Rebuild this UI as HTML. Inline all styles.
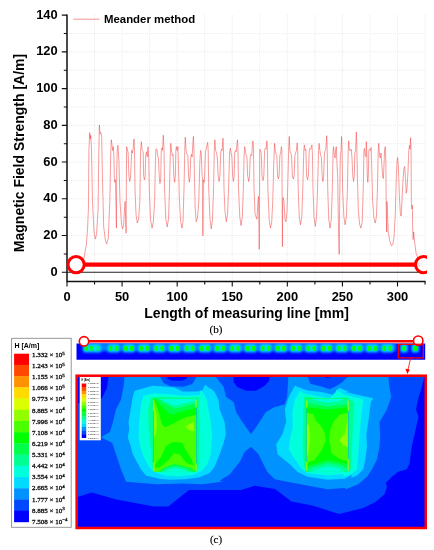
<!DOCTYPE html>
<html lang="en"><head><meta charset="utf-8"><title>Meander method figure</title>
<style>
html,body{margin:0;padding:0;background:#fff;}
body{width:434px;height:550px;overflow:hidden;}
svg{display:block;}
.sb{font-family:"Liberation Sans",Arial,sans-serif;font-weight:bold;fill:#000;}
.sr{font-family:"Liberation Serif","Times New Roman",serif;fill:#000;}
</style></head><body>
<svg width="434" height="550" viewBox="0 0 434 550">
<defs><filter id="soft" x="-5%" y="-5%" width="110%" height="110%"><feGaussianBlur stdDeviation="0.55"/></filter><filter id="soft2" x="-5%" y="-20%" width="110%" height="140%"><feGaussianBlur stdDeviation="0.7"/></filter><filter id="soft3" x="-5%" y="-30%" width="110%" height="160%"><feGaussianBlur stdDeviation="1.0"/></filter><clipPath id="mapclip"><rect x="77" y="376.5" width="348" height="150.5"/></clipPath><clipPath id="plotclip"><rect x="60" y="0" width="367" height="290"/></clipPath><clipPath id="stripclip"><rect x="76.5" y="343.6" width="348.9" height="16.2"/></clipPath></defs>
<rect width="434" height="550" fill="#fff"/>
<path d="M94.54 15.10V281.50M122.08 15.10V281.50M149.63 15.10V281.50M177.17 15.10V281.50M204.71 15.10V281.50M232.25 15.10V281.50M259.80 15.10V281.50M287.34 15.10V281.50M314.88 15.10V281.50M342.42 15.10V281.50M369.97 15.10V281.50M397.51 15.10V281.50M425.05 15.10V281.50M67.00 253.93H425.60M67.00 235.56H425.60M67.00 217.19H425.60M67.00 198.81H425.60M67.00 180.44H425.60M67.00 162.07H425.60M67.00 143.70H425.60M67.00 125.33H425.60M67.00 106.96H425.60M67.00 88.59H425.60M67.00 70.21H425.60M67.00 51.84H425.60M67.00 33.47H425.60" fill="none" stroke="#dedede" stroke-width="0.6" stroke-dasharray="1 1"/>
<path d="M67.0 272.30H425.6" stroke="#222" stroke-width="1.1" fill="none"/>
<path d="M67.50 270.50 L76.00 268.50 L81.00 262.00 L83.83 258.69 L86.37 244.68 L87.65 226.86 L88.41 209.03 L88.92 150.46 L89.68 132.64 L90.45 139.01 L90.70 135.19 L91.46 147.92 L92.48 201.39 L94.01 231.95 L95.28 239.08 L96.56 234.50 L98.09 209.03 L98.85 150.46 L99.36 125.00 L100.12 133.91 L100.89 132.64 L101.65 136.46 L102.41 175.93 L103.69 226.86 L105.47 240.86 L106.74 243.92 L108.27 238.32 L109.80 201.39 L110.82 150.46 L111.33 139.77 L112.09 145.37 L112.60 150.46 L113.36 146.65 L113.87 155.56 L114.38 178.48 L114.89 182.30 L115.40 179.75 L115.91 201.39 L116.42 228.13 L116.67 175.93 L117.18 150.46 L117.95 145.37 L118.46 153.01 L118.97 163.20 L119.99 201.39 L121.51 224.31 L122.53 228.90 L123.55 225.59 L124.57 209.03 L125.08 201.39 L125.59 216.67 L126.10 233.23 L126.35 188.66 L126.61 146.65 L127.37 149.19 L128.13 153.01 L128.90 175.93 L129.66 181.53 L130.43 178.48 L131.19 163.20 L131.70 150.46 L132.46 153.01 L133.23 147.92 L133.99 139.01 L134.50 150.46 L135.01 188.66 L136.03 214.13 L137.30 223.04 L138.57 219.22 L139.85 201.39 L140.61 150.46 L141.38 141.55 L142.14 150.46 L143.16 151.74 L143.67 175.93 L144.43 179.75 L145.20 175.93 L145.70 155.56 L146.47 151.74 L147.23 156.83 L148.00 146.65 L148.76 158.10 L149.27 188.66 L150.54 219.22 L152.07 228.13 L153.34 221.77 L154.62 201.39 L155.38 163.20 L155.89 149.19 L156.91 149.19 L157.67 155.56 L158.44 158.10 L159.20 175.93 L159.96 183.57 L160.73 178.48 L161.24 150.46 L162.00 147.92 L162.51 150.46 L163.28 135.19 L164.04 150.46 L164.55 188.66 L165.82 219.22 L167.20 226.86 L168.48 219.22 L169.50 188.66 L170.26 155.56 L170.77 143.33 L171.53 150.46 L172.30 155.56 L173.06 154.28 L173.83 175.93 L174.59 182.30 L175.35 175.93 L175.86 150.46 L176.37 146.65 L177.14 150.46 L177.90 146.65 L178.41 163.20 L179.43 201.39 L180.70 221.77 L181.97 228.13 L182.99 221.77 L184.01 188.66 L184.78 150.46 L185.28 137.22 L186.05 150.46 L187.07 154.28 L187.83 155.56 L188.59 175.93 L189.36 182.30 L190.12 175.93 L190.63 158.10 L191.40 154.28 L192.16 156.83 L192.67 145.37 L193.43 136.46 L193.94 150.46 L194.45 175.93 L195.22 209.03 L196.23 221.77 L197.51 217.95 L198.78 201.39 L199.80 163.20 L200.56 150.46 L201.33 153.01 L202.09 175.93 L202.60 179.75 L202.86 235.77 L203.36 179.75 L204.13 182.30 L204.64 175.93 L205.40 153.01 L206.17 149.19 L206.93 145.37 L207.69 142.32 L208.20 150.46 L208.71 188.66 L209.99 219.22 L211.26 228.90 L212.53 219.22 L213.55 188.66 L214.31 150.46 L214.82 139.77 L215.59 150.46 L216.61 153.01 L217.37 158.10 L218.13 175.93 L219.15 181.53 L219.92 175.93 L220.68 153.01 L221.44 149.19 L222.21 150.46 L222.97 138.24 L223.48 150.46 L223.99 188.66 L225.01 211.58 L226.28 221.77 L227.56 214.13 L228.57 188.66 L229.59 153.01 L230.36 147.92 L231.12 153.01 L231.88 156.83 L232.65 175.93 L233.41 181.53 L234.18 175.93 L234.69 153.01 L235.45 150.46 L236.21 151.74 L236.98 144.10 L237.49 139.77 L238.00 150.46 L238.51 188.66 L239.78 216.67 L241.05 225.59 L242.33 216.67 L243.34 188.66 L244.11 155.56 L244.62 146.65 L245.38 150.46 L246.15 155.56 L246.91 156.83 L247.67 175.93 L248.69 181.53 L249.46 175.93 L250.22 156.83 L250.98 154.28 L251.75 155.56 L252.51 142.83 L253.02 140.79 L253.53 150.46 L254.04 188.66 L255.06 214.13 L256.95 219.22 L257.97 201.39 L258.48 196.30 L258.99 226.86 L259.24 249.27 L259.50 201.39 L259.75 149.19 L260.51 150.46 L261.28 153.01 L262.04 175.93 L263.06 180.51 L263.83 175.93 L264.59 150.46 L265.35 148.43 L266.12 149.19 L266.88 140.79 L267.39 150.46 L267.90 188.66 L269.17 219.22 L270.45 228.13 L271.72 221.77 L272.74 201.39 L273.76 163.20 L274.52 143.33 L275.28 150.46 L276.05 154.28 L276.81 155.56 L277.58 175.93 L278.34 178.99 L279.10 175.93 L279.87 155.56 L280.63 153.01 L281.40 146.65 L281.91 150.46 L282.16 201.39 L282.41 246.72 L282.67 201.39 L283.18 197.57 L283.94 201.39 L284.96 219.22 L285.98 221.77 L287.00 211.58 L288.02 175.93 L288.78 145.37 L289.29 136.46 L289.80 150.46 L290.82 153.01 L291.58 155.56 L292.35 175.93 L293.36 178.99 L294.13 175.93 L294.89 155.56 L295.66 153.01 L296.42 150.46 L297.18 142.83 L297.69 150.46 L298.20 188.66 L299.22 216.67 L300.49 224.82 L301.77 216.67 L302.79 188.66 L303.80 150.46 L304.31 144.86 L305.08 150.46 L305.84 149.19 L306.61 175.93 L307.62 179.75 L308.39 175.93 L309.15 151.74 L309.92 148.43 L310.68 149.19 L311.44 146.65 L311.95 144.86 L312.46 155.56 L312.97 188.66 L313.99 216.67 L315.26 226.35 L316.54 216.67 L317.56 188.66 L318.57 150.46 L319.08 143.33 L319.85 150.46 L320.61 155.56 L321.38 156.83 L322.14 175.93 L322.90 181.53 L323.67 175.93 L324.43 153.01 L325.20 150.46 L325.96 147.92 L326.72 135.70 L327.23 150.46 L327.74 188.66 L328.76 219.22 L330.03 228.13 L331.31 219.22 L332.33 188.66 L333.09 150.46 L333.60 146.65 L334.36 155.56 L335.13 158.10 L335.64 149.19 L336.40 146.65 L336.91 163.20 L337.67 175.93 L338.44 226.86 L339.20 254.36 L339.71 201.39 L340.30 155.56 L341.06 150.46 L341.57 136.46 L342.08 150.46 L342.59 188.66 L343.86 216.67 L345.14 224.82 L346.41 216.67 L347.43 188.66 L348.19 150.46 L348.70 140.79 L349.46 150.46 L350.48 150.46 L351.25 149.19 L352.01 158.10 L352.78 175.93 L353.54 181.53 L354.30 175.93 L354.81 153.01 L355.58 150.46 L356.09 137.73 L356.34 132.13 L356.85 145.37 L357.36 175.93 L358.38 211.58 L359.65 224.31 L360.92 228.13 L362.20 221.77 L363.22 188.66 L363.98 150.46 L364.49 148.43 L365.25 155.56 L366.02 156.83 L366.27 141.55 L366.78 150.46 L367.29 175.93 L367.80 182.30 L368.31 175.93 L368.82 150.46 L369.58 149.19 L370.35 150.46 L371.11 147.41 L371.62 163.20 L372.64 201.39 L373.91 217.95 L375.18 223.04 L376.46 216.67 L377.48 188.66 L378.24 150.46 L378.75 143.33 L379.51 155.56 L380.28 158.10 L381.04 153.01 L381.80 163.20 L382.57 175.93 L383.33 178.48 L384.10 163.20 L384.61 149.19 L385.37 146.65 L385.88 163.20 L386.13 201.39 L386.64 231.95 L386.90 201.39 L387.41 209.03 L388.17 231.95 L389.70 240.86 L391.48 245.96 L392.75 244.68 L394.03 237.04 L395.30 214.13 L396.32 175.93 L397.08 160.65 L397.59 157.59 L398.36 165.74 L399.38 196.30 L400.39 214.13 L401.16 216.16 L401.92 201.39 L402.94 181.02 L403.96 168.29 L404.72 166.51 L405.49 178.48 L406.25 193.25 L407.02 188.66 L408.03 170.84 L408.80 150.46 L409.56 145.37 L410.07 149.19 L410.58 137.73 L411.09 150.46 L411.34 201.39 L411.85 209.03 L412.36 205.21 L412.62 226.86 L413.13 239.59 L413.64 231.95 L414.65 242.14 L416.18 253.60 L417.71 257.42 L420.00 263.00 L424.50 269.00" fill="none" stroke="#f04040" stroke-width="0.52" stroke-linejoin="round" clip-path="url(#plotclip)"/>
<path d="M67.0 14.60V282.2M66.3 281.5H425.6" stroke="#111" stroke-width="1.5" fill="none"/>
<path d="M61.80 272.30H67.0M61.80 235.56H67.0M61.80 198.81H67.0M61.80 162.07H67.0M61.80 125.33H67.0M61.80 88.59H67.0M61.80 51.84H67.0M61.80 15.10H67.0M63.80 253.93H67.0M63.80 217.19H67.0M63.80 180.44H67.0M63.80 143.70H67.0M63.80 106.96H67.0M63.80 70.21H67.0M63.80 33.47H67.0M67.00 281.5V286.5M122.08 281.5V286.5M177.17 281.5V286.5M232.25 281.5V286.5M287.34 281.5V286.5M342.42 281.5V286.5M397.51 281.5V286.5M94.54 281.5V284.5M149.63 281.5V284.5M204.71 281.5V284.5M259.80 281.5V284.5M314.88 281.5V284.5M369.97 281.5V284.5M425.05 281.5V284.5" stroke="#111" stroke-width="1.1" fill="none"/>
<text class="sb" x="57.7" y="275.80" font-size="12.9" text-anchor="end">0</text>
<text class="sb" x="57.7" y="239.06" font-size="12.9" text-anchor="end">20</text>
<text class="sb" x="57.7" y="202.31" font-size="12.9" text-anchor="end">40</text>
<text class="sb" x="57.7" y="165.57" font-size="12.9" text-anchor="end">60</text>
<text class="sb" x="57.7" y="128.83" font-size="12.9" text-anchor="end">80</text>
<text class="sb" x="57.7" y="92.09" font-size="12.9" text-anchor="end">100</text>
<text class="sb" x="57.7" y="55.34" font-size="12.9" text-anchor="end">120</text>
<text class="sb" x="57.7" y="18.60" font-size="12.9" text-anchor="end">140</text>
<text class="sb" x="67.00" y="300.5" font-size="12.9" text-anchor="middle">0</text>
<text class="sb" x="122.08" y="300.5" font-size="12.9" text-anchor="middle">50</text>
<text class="sb" x="177.17" y="300.5" font-size="12.9" text-anchor="middle">100</text>
<text class="sb" x="232.25" y="300.5" font-size="12.9" text-anchor="middle">150</text>
<text class="sb" x="287.34" y="300.5" font-size="12.9" text-anchor="middle">200</text>
<text class="sb" x="342.42" y="300.5" font-size="12.9" text-anchor="middle">250</text>
<text class="sb" x="397.51" y="300.5" font-size="12.9" text-anchor="middle">300</text>
<text class="sb" x="246.6" y="317.6" font-size="14" text-anchor="middle">Length of measuring line [mm]</text>
<text class="sb" transform="translate(23.6 153) rotate(-90)" font-size="14" text-anchor="middle">Magnetic Field Strength [A/m]</text>
<path d="M73.3 19.2H99.4" stroke="#ee3b3b" stroke-width="0.55" fill="none"/>
<text class="sb" x="104" y="23.3" font-size="11.4">Meander method</text>
<g clip-path="url(#plotclip)">
<path d="M84 264.6H420" stroke="#ff0000" stroke-width="4.2" fill="none"/>
<circle cx="76.1" cy="264.6" r="8.1" fill="#fff" fill-opacity="0.86" stroke="#ff0000" stroke-width="3"/>
<circle cx="423.6" cy="264.6" r="8.1" fill="#fff" fill-opacity="0.86" stroke="#ff0000" stroke-width="3"/>
</g>
<text class="sr" x="216" y="333" font-size="11" text-anchor="middle" stroke="#000" stroke-width="0.15">(b)</text>
<rect x="11.6" y="338.3" width="59.6" height="189" fill="#fff" stroke="#8c8c8c" stroke-width="0.9"/>
<text class="sb" x="14.4" y="348.3" font-size="7.3" textLength="25" lengthAdjust="spacingAndGlyphs">H [A/m]</text>
<rect x="14.1" y="353.70" width="14.9" height="11.51" fill="#ff0000"/>
<rect x="14.1" y="364.91" width="14.9" height="11.51" fill="#ff4900"/>
<rect x="14.1" y="376.13" width="14.9" height="11.51" fill="#ff9200"/>
<rect x="14.1" y="387.34" width="14.9" height="11.51" fill="#ffdb00"/>
<rect x="14.1" y="398.55" width="14.9" height="11.51" fill="#dbff00"/>
<rect x="14.1" y="409.77" width="14.9" height="11.51" fill="#92ff00"/>
<rect x="14.1" y="420.98" width="14.9" height="11.51" fill="#49ff00"/>
<rect x="14.1" y="432.19" width="14.9" height="11.51" fill="#00ff00"/>
<rect x="14.1" y="443.41" width="14.9" height="11.51" fill="#00ff49"/>
<rect x="14.1" y="454.62" width="14.9" height="11.51" fill="#00ff92"/>
<rect x="14.1" y="465.83" width="14.9" height="11.51" fill="#00ffdb"/>
<rect x="14.1" y="477.05" width="14.9" height="11.51" fill="#00dbff"/>
<rect x="14.1" y="488.26" width="14.9" height="11.51" fill="#0092ff"/>
<rect x="14.1" y="499.47" width="14.9" height="11.51" fill="#0049ff"/>
<rect x="14.1" y="510.69" width="14.9" height="11.51" fill="#0000ff"/>
<text class="sr" transform="translate(32.1 357.00) scale(1 1)" font-size="7" fill="#111" stroke="#111" stroke-width="0.3">1.332 × 10<tspan dy="-2.5" font-size="5">5</tspan></text>
<text class="sr" transform="translate(32.1 368.12) scale(1 1)" font-size="7" fill="#111" stroke="#111" stroke-width="0.3">1.243 × 10<tspan dy="-2.5" font-size="5">5</tspan></text>
<text class="sr" transform="translate(32.1 379.24) scale(1 1)" font-size="7" fill="#111" stroke="#111" stroke-width="0.3">1.155 × 10<tspan dy="-2.5" font-size="5">5</tspan></text>
<text class="sr" transform="translate(32.1 390.36) scale(1 1)" font-size="7" fill="#111" stroke="#111" stroke-width="0.3">1.066 × 10<tspan dy="-2.5" font-size="5">5</tspan></text>
<text class="sr" transform="translate(32.1 401.48) scale(1 1)" font-size="7" fill="#111" stroke="#111" stroke-width="0.3">9.773 × 10<tspan dy="-2.5" font-size="5">4</tspan></text>
<text class="sr" transform="translate(32.1 412.60) scale(1 1)" font-size="7" fill="#111" stroke="#111" stroke-width="0.3">8.885 × 10<tspan dy="-2.5" font-size="5">4</tspan></text>
<text class="sr" transform="translate(32.1 423.72) scale(1 1)" font-size="7" fill="#111" stroke="#111" stroke-width="0.3">7.996 × 10<tspan dy="-2.5" font-size="5">4</tspan></text>
<text class="sr" transform="translate(32.1 434.84) scale(1 1)" font-size="7" fill="#111" stroke="#111" stroke-width="0.3">7.108 × 10<tspan dy="-2.5" font-size="5">4</tspan></text>
<text class="sr" transform="translate(32.1 445.96) scale(1 1)" font-size="7" fill="#111" stroke="#111" stroke-width="0.3">6.219 × 10<tspan dy="-2.5" font-size="5">4</tspan></text>
<text class="sr" transform="translate(32.1 457.08) scale(1 1)" font-size="7" fill="#111" stroke="#111" stroke-width="0.3">5.331 × 10<tspan dy="-2.5" font-size="5">4</tspan></text>
<text class="sr" transform="translate(32.1 468.20) scale(1 1)" font-size="7" fill="#111" stroke="#111" stroke-width="0.3">4.442 × 10<tspan dy="-2.5" font-size="5">4</tspan></text>
<text class="sr" transform="translate(32.1 479.32) scale(1 1)" font-size="7" fill="#111" stroke="#111" stroke-width="0.3">3.554 × 10<tspan dy="-2.5" font-size="5">4</tspan></text>
<text class="sr" transform="translate(32.1 490.44) scale(1 1)" font-size="7" fill="#111" stroke="#111" stroke-width="0.3">2.665 × 10<tspan dy="-2.5" font-size="5">4</tspan></text>
<text class="sr" transform="translate(32.1 501.56) scale(1 1)" font-size="7" fill="#111" stroke="#111" stroke-width="0.3">1.777 × 10<tspan dy="-2.5" font-size="5">4</tspan></text>
<text class="sr" transform="translate(32.1 512.68) scale(1 1)" font-size="7" fill="#111" stroke="#111" stroke-width="0.3">8.885 × 10<tspan dy="-2.5" font-size="5">3</tspan></text>
<text class="sr" transform="translate(32.1 523.80) scale(1 1)" font-size="7" fill="#111" stroke="#111" stroke-width="0.3">7.508 × 10<tspan dy="-2.5" font-size="5">−4</tspan></text>
<g clip-path="url(#stripclip)">
<rect x="76" y="343" width="349.5" height="17.5" fill="#0000ff"/>
<g filter="url(#soft3)">
<rect x="83" y="342" width="313.5" height="9.6" rx="2" fill="#0049ff"/>
<rect x="84" y="343.5" width="311.5" height="6.9" rx="2" fill="#0092ff" opacity="0.8"/>
<rect x="82.6" y="343.4" width="19.2" height="9.4" rx="2.5" fill="#0092ff"/>
<rect x="107.1" y="343.4" width="13.1" height="9.4" rx="2.5" fill="#0092ff"/>
<rect x="122.3" y="343.4" width="13.1" height="9.4" rx="2.5" fill="#0092ff"/>
<rect x="137.5" y="343.4" width="13.1" height="9.4" rx="2.5" fill="#0092ff"/>
<rect x="152.7" y="343.4" width="13.1" height="9.4" rx="2.5" fill="#0092ff"/>
<rect x="167.9" y="343.4" width="13.1" height="9.4" rx="2.5" fill="#0092ff"/>
<rect x="183.1" y="343.4" width="13.1" height="9.4" rx="2.5" fill="#0092ff"/>
<rect x="198.3" y="343.4" width="13.1" height="9.4" rx="2.5" fill="#0092ff"/>
<rect x="213.5" y="343.4" width="13.1" height="9.4" rx="2.5" fill="#0092ff"/>
<rect x="228.7" y="343.4" width="13.1" height="9.4" rx="2.5" fill="#0092ff"/>
<rect x="243.9" y="343.4" width="13.1" height="9.4" rx="2.5" fill="#0092ff"/>
<rect x="259.1" y="343.4" width="13.1" height="9.4" rx="2.5" fill="#0092ff"/>
<rect x="274.3" y="343.4" width="13.1" height="9.4" rx="2.5" fill="#0092ff"/>
<rect x="289.5" y="343.4" width="13.1" height="9.4" rx="2.5" fill="#0092ff"/>
<rect x="304.7" y="343.4" width="13.1" height="9.4" rx="2.5" fill="#0092ff"/>
<rect x="319.9" y="343.4" width="13.1" height="9.4" rx="2.5" fill="#0092ff"/>
<rect x="335.1" y="343.4" width="13.1" height="9.4" rx="2.5" fill="#0092ff"/>
<rect x="350.3" y="343.4" width="13.1" height="9.4" rx="2.5" fill="#0092ff"/>
<rect x="365.5" y="343.4" width="13.1" height="9.4" rx="2.5" fill="#0092ff"/>
<rect x="380.7" y="343.4" width="13.1" height="9.4" rx="2.5" fill="#0092ff"/>
<rect x="400.0" y="343.4" width="8.2" height="9.4" rx="2.5" fill="#0092ff"/>
<rect x="411.1" y="343.4" width="8.2" height="9.4" rx="2.5" fill="#0092ff"/>
<rect x="83.8" y="344.6" width="16.8" height="6.9" rx="2.6" fill="#00dbff"/>
<rect x="108.3" y="344.6" width="10.7" height="6.9" rx="2.6" fill="#00dbff"/>
<rect x="123.5" y="344.6" width="10.7" height="6.9" rx="2.6" fill="#00dbff"/>
<rect x="138.7" y="344.6" width="10.7" height="6.9" rx="2.6" fill="#00dbff"/>
<rect x="153.9" y="344.6" width="10.7" height="6.9" rx="2.6" fill="#00dbff"/>
<rect x="169.1" y="344.6" width="10.7" height="6.9" rx="2.6" fill="#00dbff"/>
<rect x="184.3" y="344.6" width="10.7" height="6.9" rx="2.6" fill="#00dbff"/>
<rect x="199.5" y="344.6" width="10.7" height="6.9" rx="2.6" fill="#00dbff"/>
<rect x="214.7" y="344.6" width="10.7" height="6.9" rx="2.6" fill="#00dbff"/>
<rect x="229.9" y="344.6" width="10.7" height="6.9" rx="2.6" fill="#00dbff"/>
<rect x="245.1" y="344.6" width="10.7" height="6.9" rx="2.6" fill="#00dbff"/>
<rect x="260.3" y="344.6" width="10.7" height="6.9" rx="2.6" fill="#00dbff"/>
<rect x="275.5" y="344.6" width="10.7" height="6.9" rx="2.6" fill="#00dbff"/>
<rect x="290.7" y="344.6" width="10.7" height="6.9" rx="2.6" fill="#00dbff"/>
<rect x="305.9" y="344.6" width="10.7" height="6.9" rx="2.6" fill="#00dbff"/>
<rect x="321.1" y="344.6" width="10.7" height="6.9" rx="2.6" fill="#00dbff"/>
<rect x="336.3" y="344.6" width="10.7" height="6.9" rx="2.6" fill="#00dbff"/>
<rect x="351.5" y="344.6" width="10.7" height="6.9" rx="2.6" fill="#00dbff"/>
<rect x="366.7" y="344.6" width="10.7" height="6.9" rx="2.6" fill="#00dbff"/>
<rect x="381.9" y="344.6" width="10.7" height="6.9" rx="2.6" fill="#00dbff"/>
<rect x="401.2" y="344.6" width="5.8" height="6.9" rx="2.6" fill="#00dbff"/>
<rect x="412.3" y="344.6" width="5.8" height="6.9" rx="2.6" fill="#00dbff"/>
</g><g filter="url(#soft2)">
<rect x="84.6" y="346.1" width="3.6" height="4.6" rx="0.9" fill="#00ff00" opacity="1"/>
<rect x="89.5" y="346.1" width="3.6" height="4.6" rx="0.9" fill="#00ff00" opacity="0.8"/>
<rect x="96.2" y="346.1" width="3.6" height="4.6" rx="0.9" fill="#00ff00" opacity="0.45"/>
<rect x="108.9" y="346.1" width="3.6" height="4.6" rx="0.9" fill="#00ff00" opacity="1"/>
<rect x="114.8" y="346.1" width="3.6" height="4.6" rx="0.9" fill="#00ff00" opacity="1"/>
<rect x="124.1" y="346.1" width="3.6" height="4.6" rx="0.9" fill="#00ff00" opacity="1"/>
<rect x="130.0" y="346.1" width="3.6" height="4.6" rx="0.9" fill="#00ff00" opacity="1"/>
<rect x="139.3" y="346.1" width="3.6" height="4.6" rx="0.9" fill="#00ff00" opacity="1"/>
<rect x="145.2" y="346.1" width="3.6" height="4.6" rx="0.9" fill="#00ff00" opacity="1"/>
<rect x="154.5" y="346.1" width="3.6" height="4.6" rx="0.9" fill="#00ff00" opacity="1"/>
<rect x="160.4" y="346.1" width="3.6" height="4.6" rx="0.9" fill="#00ff00" opacity="1"/>
<rect x="169.7" y="346.1" width="3.6" height="4.6" rx="0.9" fill="#00ff00" opacity="1"/>
<rect x="175.6" y="346.1" width="3.6" height="4.6" rx="0.9" fill="#00ff00" opacity="1"/>
<rect x="184.9" y="346.1" width="3.6" height="4.6" rx="0.9" fill="#00ff00" opacity="1"/>
<rect x="190.8" y="346.1" width="3.6" height="4.6" rx="0.9" fill="#00ff00" opacity="1"/>
<rect x="200.1" y="346.1" width="3.6" height="4.6" rx="0.9" fill="#00ff00" opacity="1"/>
<rect x="206.0" y="346.1" width="3.6" height="4.6" rx="0.9" fill="#00ff00" opacity="1"/>
<rect x="215.3" y="346.1" width="3.6" height="4.6" rx="0.9" fill="#00ff00" opacity="1"/>
<rect x="221.2" y="346.1" width="3.6" height="4.6" rx="0.9" fill="#00ff00" opacity="1"/>
<rect x="230.5" y="346.1" width="3.6" height="4.6" rx="0.9" fill="#00ff00" opacity="1"/>
<rect x="236.4" y="346.1" width="3.6" height="4.6" rx="0.9" fill="#00ff00" opacity="1"/>
<rect x="245.7" y="346.1" width="3.6" height="4.6" rx="0.9" fill="#00ff00" opacity="1"/>
<rect x="251.6" y="346.1" width="3.6" height="4.6" rx="0.9" fill="#00ff00" opacity="1"/>
<rect x="260.9" y="346.1" width="3.6" height="4.6" rx="0.9" fill="#00ff00" opacity="1"/>
<rect x="266.8" y="346.1" width="3.6" height="4.6" rx="0.9" fill="#00ff00" opacity="1"/>
<rect x="276.1" y="346.1" width="3.6" height="4.6" rx="0.9" fill="#00ff00" opacity="1"/>
<rect x="282.0" y="346.1" width="3.6" height="4.6" rx="0.9" fill="#00ff00" opacity="1"/>
<rect x="291.3" y="346.1" width="3.6" height="4.6" rx="0.9" fill="#00ff00" opacity="1"/>
<rect x="297.2" y="346.1" width="3.6" height="4.6" rx="0.9" fill="#00ff00" opacity="1"/>
<rect x="306.5" y="346.1" width="3.6" height="4.6" rx="0.9" fill="#00ff00" opacity="1"/>
<rect x="312.4" y="346.1" width="3.6" height="4.6" rx="0.9" fill="#00ff00" opacity="1"/>
<rect x="321.7" y="346.1" width="3.6" height="4.6" rx="0.9" fill="#00ff00" opacity="1"/>
<rect x="327.6" y="346.1" width="3.6" height="4.6" rx="0.9" fill="#00ff00" opacity="1"/>
<rect x="336.9" y="346.1" width="3.6" height="4.6" rx="0.9" fill="#00ff00" opacity="1"/>
<rect x="342.8" y="346.1" width="3.6" height="4.6" rx="0.9" fill="#00ff00" opacity="1"/>
<rect x="352.1" y="346.1" width="3.6" height="4.6" rx="0.9" fill="#00ff00" opacity="1"/>
<rect x="358.0" y="346.1" width="3.6" height="4.6" rx="0.9" fill="#00ff00" opacity="1"/>
<rect x="367.3" y="346.1" width="3.6" height="4.6" rx="0.9" fill="#00ff00" opacity="1"/>
<rect x="373.2" y="346.1" width="3.6" height="4.6" rx="0.9" fill="#00ff00" opacity="1"/>
<rect x="382.5" y="346.1" width="3.6" height="4.6" rx="0.9" fill="#00ff00" opacity="1"/>
<rect x="388.4" y="346.1" width="3.6" height="4.6" rx="0.9" fill="#00ff00" opacity="1"/>
<rect x="402.3" y="346.1" width="3.6" height="4.6" rx="0.9" fill="#00ff00" opacity="1"/>
<rect x="413.4" y="346.1" width="3.6" height="4.6" rx="0.9" fill="#00ff00" opacity="1"/>
</g></g>
<path d="M88 341.3H414" stroke="#ff0000" stroke-width="2.5" fill="none"/>
<circle cx="84" cy="341.3" r="4.7" fill="#fff" fill-opacity="0.92" stroke="#ff0000" stroke-width="1.6"/>
<circle cx="418.2" cy="340.7" r="4.7" fill="#fff" fill-opacity="0.92" stroke="#ff0000" stroke-width="1.6"/>
<rect x="398.3" y="344.3" width="25" height="13.6" fill="none" stroke="#ff0000" stroke-width="1.25"/>
<path d="M410.6 358.5L407.9 370" stroke="#ff0000" stroke-width="0.8" fill="none"/>
<path d="M405.4 368.8L407.4 374L409.8 369.6Z" fill="#ff0000"/>
<rect x="76" y="375.5" width="350" height="152.5" fill="#0049ff"/>
<g clip-path="url(#mapclip)"><g filter="url(#soft)">
<polygon points="70.0,530.0 70.0,497.5 79.0,496.5 91.6,492.4 116.5,499.4 153.8,506.5 168.3,506.5 189.0,489.9 241.0,489.9 255.0,485.7 274.9,489.0 291.5,501.5 312.2,505.6 339.2,513.9 363.3,507.9 375.8,501.7 384.5,494.2 387.0,486.7 385.7,483.0 391.9,476.7 398.1,471.8 406.8,469.3 409.3,464.3 411.8,446.8 415.6,429.4 418.5,416.9 416.0,409.4 418.0,399.4 421.8,387.0 424.3,377.5 425.0,370.0 432.0,370.0 432.0,530.0" fill="#0000ff"/>
<polygon points="70.0,370.0 108.6,370.0 108.6,376.5 106.8,388.2 101.9,398.2 90.0,402.0 70.0,404.0" fill="#0000ff"/>
<polygon points="124.8,374.5 123.5,387.0 121.0,399.4 116.0,409.4 112.3,424.4 109.8,431.9 101.1,437.3 112.3,443.1 116.0,454.3 121.0,469.3 126.0,481.7 157.1,484.2 183.0,483.5 202.2,484.2 222.1,481.7 219.9,480.5 229.9,474.2 239.8,461.8 244.8,451.8 251.0,446.8 258.5,454.3 267.2,471.8 274.7,479.2 287.1,481.7 307.3,485.5 327.2,489.2 344.6,488.0 345.9,489.2 358.3,484.2 367.0,476.7 372.0,469.3 377.0,459.3 379.5,446.8 380.2,436.8 379.5,421.9 386.9,409.4 391.2,396.9 389.4,387.0 388.2,374.5 347.7,371.2 347.7,369.9 285.5,369.9 285.5,374.0 288.3,377.5 287.1,396.9 284.6,404.4 274.7,406.9 265.9,411.9 257.2,425.6 251.0,434.3 242.3,421.9 236.1,411.9 233.6,401.9 226.1,396.9 223.7,387.0 216.2,377.5 216.2,373.2" fill="#0092ff"/>
<polygon points="160.6,371.5 160.6,377.8 163.6,382.9 170.7,386.2 183.4,386.7 192.2,384.1 196.0,377.8 196.0,371.5" fill="#0049ff"/>
<polygon points="166.9,371.5 167.4,378.6 172.0,380.8 182.1,380.8 186.7,378.6 187.2,371.5" fill="#0000ff"/>
<polygon points="307.6,371.2 307.6,376.8 310.4,383.7 321.5,386.4 329.8,389.2 335.3,386.4 342.2,382.3 347.7,376.8 347.7,371.2" fill="#0049ff"/>
<polygon points="324.2,371.2 324.2,376.8 327.6,378.1 331.1,376.8 331.1,371.2" fill="#0000ff"/>
<polygon points="233.6,372.0 233.6,382.0 237.3,387.0 246.0,390.7 256.0,390.7 264.7,385.7 269.2,380.7 270.2,372.0" fill="#0000ff"/>
<polygon points="134.7,390.7 132.7,396.9 130.2,411.9 128.5,421.9 129.2,429.4 127.7,437.3 130.2,444.3 132.7,454.3 140.9,469.3 145.9,475.5 159.6,478.7 169.9,479.7 184.8,479.2 199.7,477.2 209.7,473.0 214.6,466.8 219.6,454.3 223.3,444.3 225.8,434.3 224.6,421.9 219.6,409.4 218.4,399.4 214.6,392.0 212.1,389.5 208.4,387.5 205.2,384.5 202.2,390.7 197.2,391.5 182.3,391.5 174.8,387.5 164.9,386.5 152.4,385.7" fill="#00dbff"/>
<polygon points="143.4,395.7 140.9,404.4 139.2,421.9 138.4,436.8 140.2,446.8 144.7,459.3 149.6,468.0 157.1,473.0 164.9,475.5 179.8,476.2 193.5,474.7 202.2,470.5 207.2,464.3 210.9,454.3 212.1,436.8 210.9,421.9 208.4,409.4 206.7,399.4 203.4,393.2 200.9,389.5 199.7,394.9 184.8,395.7 169.9,394.4 154.9,393.2" fill="#00ffdb"/>
<polygon points="150.9,397.7 148.1,409.4 148.6,426.9 150.4,444.3 151.6,456.8 152.6,469.8 154.9,471.8 196.0,471.8 198.7,466.8 199.2,446.8 199.7,429.4 199.2,411.9 198.7,399.9 198.7,396.9 184.8,397.7 164.9,396.9 153.7,396.9" fill="#00ff92"/>
<polygon points="294.9,385.7 288.7,396.9 284.9,409.4 286.2,421.9 282.4,434.3 276.2,444.3 277.5,454.3 289.9,464.3 297.4,471.8 307.3,476.7 327.2,479.7 344.6,478.7 352.1,474.7 350.9,478.0 357.1,475.5 363.3,469.3 365.3,459.3 367.0,446.8 366.3,434.3 368.3,421.9 370.8,401.9 373.3,398.2 355.9,394.4 345.9,392.0 349.1,392.0 339.4,387.8 332.5,394.7 321.5,392.0 307.6,390.6 296.6,386.4" fill="#00dbff"/>
<polygon points="299.9,390.7 294.9,399.4 292.4,411.9 292.9,426.9 289.9,439.3 288.7,449.3 294.9,459.3 301.1,468.0 307.3,473.0 327.2,475.5 343.4,474.2 343.4,476.7 352.1,473.7 357.1,469.3 358.3,454.3 359.6,434.3 362.1,409.4 363.3,399.4 353.4,396.9 343.4,394.4 336.0,389.5 336.7,392.0 329.7,398.2 314.8,395.7 303.6,393.2" fill="#00ffdb"/>
<polygon points="304.3,396.2 303.3,406.9 303.1,421.9 302.8,436.8 302.8,449.3 303.6,461.8 305.3,471.3 349.6,471.3 350.9,469.3 351.9,446.8 352.9,421.9 354.4,401.9 348.9,398.9 344.6,396.9 329.7,399.4 314.8,397.7" fill="#00ff92"/>
</g>
<g filter="url(#soft)">
<rect x="153.6" y="399.0" width="42.6" height="72.8" fill="#49ff00"/>
<polygon points="153.6,398.8 196.2,398.8 196.2,414.7 185.1,417.5 172.7,423.7 165.7,427.2 162.3,425.1 158.8,412.7 156.1,404.4 153.6,401.6" fill="#00ff00"/>
<polygon points="155.4,398.8 196.2,398.8 196.2,407.8 186.5,410.6 178.2,412.7 172.7,414.7 167.8,412.7 162.3,407.1 157.4,401.6" fill="#00ff49"/>
<polygon points="157.4,398.8 196.2,398.8 196.2,403.7 186.5,405.7 179.6,407.8 174.7,408.8 169.9,406.0 163.0,402.7" fill="#00ff92"/>
<polygon points="160.2,398.8 196.2,398.8 196.2,400.6 187.9,402.4 179.6,404.6 174.7,406.0 169.9,403.8 164.4,401.3" fill="#00ffdb"/>
<polygon points="165.7,446.3 172.7,442.1 182.3,442.8 185.1,449.0 192.0,460.1 193.4,465.6 186.5,462.9 179.6,454.6 174.0,453.2 168.5,460.1 160.2,467.0 155.0,467.7 155.4,464.2 161.6,455.9" fill="#00ff00"/>
<polygon points="158.8,471.8 162.3,468.4 167.1,466.3 174.7,464.0 183.7,465.9 190.6,467.7 196.2,471.8" fill="#00ff49"/>
<polygon points="160.9,471.8 165.7,468.4 174.7,466.0 183.7,467.7 192.7,471.8" fill="#00ff92"/>
<polygon points="163.7,471.8 168.5,469.8 174.7,468.1 182.3,469.5 189.2,471.8" fill="#00ffdb"/>
<polygon points="185.1,426.5 193.7,422.1 194.2,431.3 189.2,429.9" fill="#92ff00"/>
<polygon points="153.6,407.1 156.1,412.7 156.8,426.5 155.4,434.8 153.6,437.5" fill="#92ff00"/>
<path d="M153.79999999999998 400.0V410.0M153.79999999999998 462.8V470.8" stroke="#ffdb00" stroke-width="1" opacity="0.9"/>
<path d="M196.0 400.0V407.0M196.0 463.8V470.8" stroke="#dbff00" stroke-width="0.9" opacity="0.9"/>
<path d="M153.4 411.0V461.8M196.5 408.0V462.8" stroke="#0092ff" stroke-width="0.5" opacity="0.8"/>
<rect x="306.6" y="398.6" width="41.6" height="72.8" fill="#49ff00"/>
<polygon points="306.6,398.8 348.0,398.8 348.0,412.7 339.5,414.7 333.9,420.9 330.5,429.2 329.1,437.5 329.5,444.4 329.8,440.7 331.2,453.2 339.5,458.7 348.0,461.5 348.0,471.8 306.6,471.8 306.6,462.9 314.6,460.1 321.5,450.4 325.7,440.7 325.7,440.3 325.0,433.4 321.5,426.5 316.0,420.9 313.2,414.0 306.6,412.7" fill="#00ff00"/>
<polygon points="306.6,398.8 348.0,398.8 348.0,407.1 339.5,408.2 327.7,409.6 316.0,408.2 306.6,407.1" fill="#00ff49"/>
<polygon points="306.6,398.8 348.0,398.8 348.0,403.7 339.5,405.0 327.7,406.4 316.0,404.6 306.6,403.2" fill="#00ff92"/>
<polygon points="310.4,398.8 345.0,398.8 339.5,400.9 327.7,402.7 316.0,400.5" fill="#00ffdb"/>
<polygon points="306.6,471.8 306.6,466.3 314.6,464.0 327.7,460.1 339.5,462.2 348.0,464.9 348.0,471.8" fill="#00ff49"/>
<polygon points="306.6,471.8 308.4,468.4 316.0,466.3 327.7,463.1 339.5,464.9 346.4,467.7 348.0,471.8" fill="#00ff92"/>
<polygon points="310.4,471.8 317.4,469.1 327.7,466.3 338.1,468.0 344.3,471.8" fill="#00ffdb"/>
<polygon points="339.5,440.3 345.0,433.4 347.5,419.6 347.8,447.2 343.6,445.8" fill="#92ff00"/>
<polygon points="306.8,422.3 309.1,426.5 309.8,440.3 308.4,454.1 306.8,456.9" fill="#92ff00"/>
<path d="M306.8 400.6V407.6M306.8 462.4V470.4" stroke="#dbff00" stroke-width="0.9" opacity="0.9"/>
<path d="M348.0 400.6V410.6M348.0 459.4V470.4" stroke="#ffdb00" stroke-width="1" opacity="0.9"/>
<path d="M306.3 408.6V461.4M348.5 411.6V458.4" stroke="#0092ff" stroke-width="0.5" opacity="0.8"/>
</g>
<rect x="79.7" y="377" width="21.1" height="63.3" fill="#fff"/>
<rect x="81.7" y="383.50" width="4.5" height="3.82" fill="#ff0000"/>
<rect x="81.7" y="387.12" width="4.5" height="3.82" fill="#ff4900"/>
<rect x="81.7" y="390.74" width="4.5" height="3.82" fill="#ff9200"/>
<rect x="81.7" y="394.36" width="4.5" height="3.82" fill="#ffdb00"/>
<rect x="81.7" y="397.98" width="4.5" height="3.82" fill="#dbff00"/>
<rect x="81.7" y="401.60" width="4.5" height="3.82" fill="#92ff00"/>
<rect x="81.7" y="405.22" width="4.5" height="3.82" fill="#49ff00"/>
<rect x="81.7" y="408.84" width="4.5" height="3.82" fill="#00ff00"/>
<rect x="81.7" y="412.46" width="4.5" height="3.82" fill="#00ff49"/>
<rect x="81.7" y="416.08" width="4.5" height="3.82" fill="#00ff92"/>
<rect x="81.7" y="419.70" width="4.5" height="3.82" fill="#00ffdb"/>
<rect x="81.7" y="423.32" width="4.5" height="3.82" fill="#00dbff"/>
<rect x="81.7" y="426.94" width="4.5" height="3.82" fill="#0092ff"/>
<rect x="81.7" y="430.56" width="4.5" height="3.82" fill="#0049ff"/>
<rect x="81.7" y="434.18" width="4.5" height="3.82" fill="#0000ff"/>
<text class="sb" x="81.6" y="381.2" font-size="2.8" textLength="8.4" lengthAdjust="spacingAndGlyphs">H [A/m]</text>
<text class="sb" x="88" y="384.40" font-size="2.5" textLength="10.6" lengthAdjust="spacingAndGlyphs" style="font-weight:normal;fill:#222">1.3320E+05</text>
<text class="sb" x="88" y="388.04" font-size="2.5" textLength="10.6" lengthAdjust="spacingAndGlyphs" style="font-weight:normal;fill:#222">1.2430E+05</text>
<text class="sb" x="88" y="391.68" font-size="2.5" textLength="10.6" lengthAdjust="spacingAndGlyphs" style="font-weight:normal;fill:#222">1.1550E+05</text>
<text class="sb" x="88" y="395.32" font-size="2.5" textLength="10.6" lengthAdjust="spacingAndGlyphs" style="font-weight:normal;fill:#222">1.0660E+05</text>
<text class="sb" x="88" y="398.96" font-size="2.5" textLength="10.6" lengthAdjust="spacingAndGlyphs" style="font-weight:normal;fill:#222">9.7730E+04</text>
<text class="sb" x="88" y="402.60" font-size="2.5" textLength="10.6" lengthAdjust="spacingAndGlyphs" style="font-weight:normal;fill:#222">8.8850E+04</text>
<text class="sb" x="88" y="406.24" font-size="2.5" textLength="10.6" lengthAdjust="spacingAndGlyphs" style="font-weight:normal;fill:#222">7.9960E+04</text>
<text class="sb" x="88" y="409.88" font-size="2.5" textLength="10.6" lengthAdjust="spacingAndGlyphs" style="font-weight:normal;fill:#222">7.1080E+04</text>
<text class="sb" x="88" y="413.52" font-size="2.5" textLength="10.6" lengthAdjust="spacingAndGlyphs" style="font-weight:normal;fill:#222">6.2190E+04</text>
<text class="sb" x="88" y="417.16" font-size="2.5" textLength="10.6" lengthAdjust="spacingAndGlyphs" style="font-weight:normal;fill:#222">5.3310E+04</text>
<text class="sb" x="88" y="420.80" font-size="2.5" textLength="10.6" lengthAdjust="spacingAndGlyphs" style="font-weight:normal;fill:#222">4.4420E+04</text>
<text class="sb" x="88" y="424.44" font-size="2.5" textLength="10.6" lengthAdjust="spacingAndGlyphs" style="font-weight:normal;fill:#222">3.5540E+04</text>
<text class="sb" x="88" y="428.08" font-size="2.5" textLength="10.6" lengthAdjust="spacingAndGlyphs" style="font-weight:normal;fill:#222">2.6650E+04</text>
<text class="sb" x="88" y="431.72" font-size="2.5" textLength="10.6" lengthAdjust="spacingAndGlyphs" style="font-weight:normal;fill:#222">1.7770E+04</text>
<text class="sb" x="88" y="435.36" font-size="2.5" textLength="10.6" lengthAdjust="spacingAndGlyphs" style="font-weight:normal;fill:#222">8.8850E+03</text>
<text class="sb" x="88" y="439.00" font-size="2.5" textLength="10.6" lengthAdjust="spacingAndGlyphs" style="font-weight:normal;fill:#222">7.5080E-04</text>
</g>
<rect x="76.65" y="375.7" width="349.1" height="152.3" fill="none" stroke="#ff0000" stroke-width="2.5"/>
<text class="sr" x="216" y="542.6" font-size="11" text-anchor="middle" stroke="#000" stroke-width="0.15">(c)</text>
</svg></body></html>
